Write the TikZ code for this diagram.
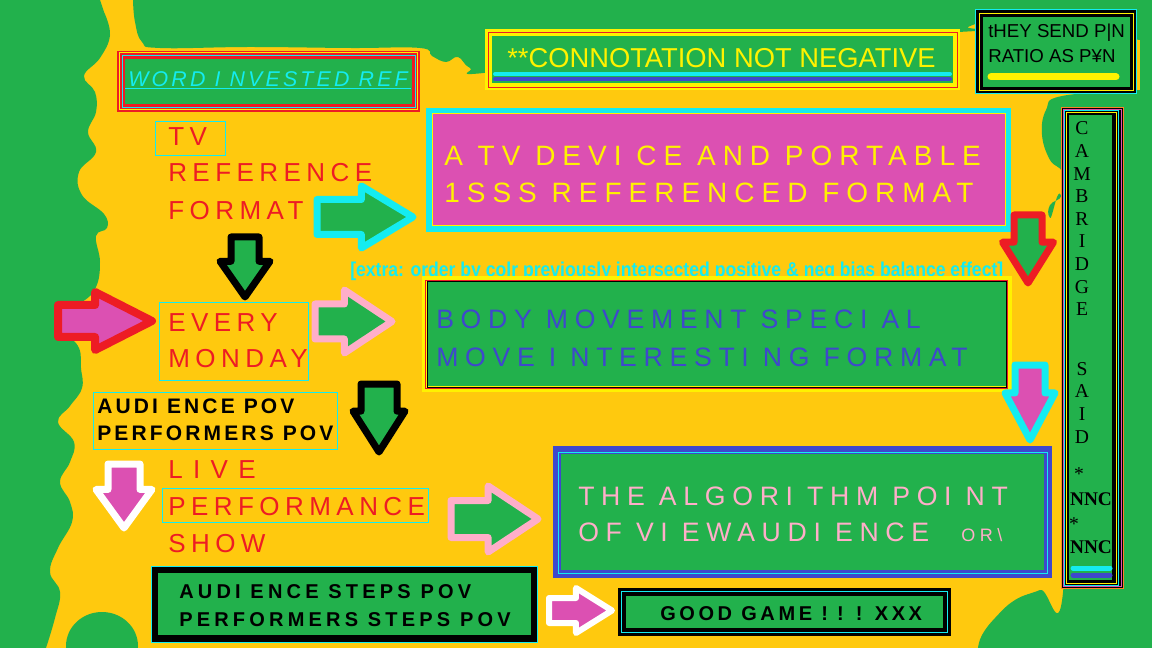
\documentclass[tikz,border=0pt]{standalone}
\usepackage{fontspec}
\setmainfont{Liberation Sans}
\newfontfamily\plainsans{Liberation Sans}
\newfontfamily\trackfont[LetterSpace=21]{Liberation Sans}
\newfontfamily\trackfontwide[LetterSpace=25]{Liberation Sans}
\newfontfamily\trackfontpov[LetterSpace=15]{Liberation Sans}
\newfontfamily\trackfontgame[LetterSpace=18]{Liberation Sans}
\newfontfamily\trackfontsteps[LetterSpace=21]{Liberation Sans}
\newfontfamily\wordfont[LetterSpace=15]{Liberation Sans}
\newfontfamily\extrafont[FakeStretch=0.88]{Liberation Sans}
\newfontfamily\cambfont{Liberation Serif}
\usetikzlibrary{shapes.arrows}
\newdimen\pxunit \pxunit=0.75pt
\definecolor{bgyellow}{RGB}{255,201,14}
\definecolor{treegreen}{RGB}{34,177,76}
\definecolor{boxred}{RGB}{237,28,36}
\definecolor{boxcyan}{RGB}{20,236,240}
\definecolor{boxyellow}{RGB}{255,242,0}
\definecolor{boxmagenta}{RGB}{220,80,178}
\definecolor{boxblue}{RGB}{63,72,204}
\definecolor{boxpink}{RGB}{255,174,201}
\definecolor{boxorange}{RGB}{255,127,39}

\begin{document}
\begin{tikzpicture}[x=0.75pt,y=0.75pt,yscale=-1,
  blockarrow/.style={single arrow,inner sep=0pt,line width=7\pxunit,line join=round,anchor=tail},
  arrowsize/.style n args={4}{minimum height=#1\pxunit,inner sep=#2\pxunit,single arrow head extend=#3\pxunit,single arrow tip angle=#4},
  txt/.style={anchor=base west,inner sep=0pt},
  colletter/.style={anchor=base,inner sep=0pt,font=\cambfont\fontsize{14.7}{16}\selectfont},
  thin/.style={line width=1\pxunit},
  redtext/.style={txt,boxred,font=\trackfont\fontsize{19.5}{20}\selectfont},
  boxtext/.style={txt,font=\trackfontwide\fontsize{20}{22}\selectfont}]
\useasboundingbox (0,0) rectangle (1152,648);
\fill[bgyellow] (0,0) rectangle (1152,648);

% trees
\fill[treegreen] (0,0) -- (100,0) -- plot[smooth,tension=0.7] coordinates {(104,12) (110,35) (100,58) (84,76) (95,92) (96,112) (88,132) (96,152) (79,172) (82,195) (104,214) (107,228) (96,236) (100,262) (96,287) (82,302) (58,312) (66,332) (79,348) (81,368) (82,388) (70,406) (58,422) (74,442) (70,462) (60,482) (70,502) (72,522) (58,548) (50,572) (60,592) (55,618) (46,648)} -- (0,648) -- cycle;
\fill[treegreen] (133,0) -- plot[smooth,tension=0.7] coordinates {(133,0) (135,22) (142,42) (160,48) (250,47) (350,48) (420,48) (432,56) (446,62) (458,57) (470,68) (492,72) (700,40) (958,32) (968,27) (985,20)} -- (1140,40) -- plot[smooth,tension=0.7] coordinates {(1140,90) (1062,96) (1046,110) (1042,135) (1050,160) (1062,172) (1062,195) (1050,205) (1050,218) (1064,226) (1064,580) (1040,590) (1015,600) (995,618) (982,635) (978,648)} -- (1152,648) -- (1152,0) -- cycle;
\fill[treegreen] (102,646) ellipse [x radius=36, y radius=34];

% top row
\draw[boxred,line width=8\pxunit,fill=treegreen] (121,55) rectangle (416,108);
\draw[boxyellow,thin] (119.5,53) rectangle (417.5,110);
\draw[boxcyan,thin] (122,56) rectangle (415.5,107.5);
\node[txt,boxcyan,font=\wordfont\itshape\fontsize{16}{18}\selectfont] (wordref) at (128,87) {WORD I NVESTED REF};
\draw[boxcyan,line width=1.2\pxunit] (125,88.5) -- (411,88.5);

\draw[boxyellow,line width=7\pxunit,fill=treegreen] (488.5,32.5) rectangle (956.5,86.5);
\draw[boxred,thin] (488,32.5) rectangle (957,87.5);
\node[txt,boxyellow,font=\plainsans\fontsize{20.5}{22}\selectfont] (connotation) at (507,68) {**CONNOTATION NOT NEGATIVE};
\draw[boxcyan,line width=4\pxunit,line cap=round] (495,74) -- (950,74);
\draw[boxblue,line width=4\pxunit,line cap=round] (495,79) -- (950,79);

\draw[black,line width=7\pxunit,fill=treegreen] (979.5,13.5) rectangle (1133.5,91);
\draw[boxcyan,thin] (975.5,9.5) rectangle (1136.5,94);
\draw[boxyellow,thin] (979.5,14) rectangle (1133,90.5);
\node[txt,font=\plainsans\fontsize{14}{15}\selectfont] (pnline1) at (988,38) {tHEY SEND P|N};
\node[txt,font=\plainsans\fontsize{14}{15}\selectfont] (pnline2) at (988,63) {RATIO AS P¥N};
\draw[boxyellow,line width=7\pxunit,line cap=round] (991,77) -- (1116,77);

% right column
\fill[black] (1061,107) rectangle (1124,589);
\fill[treegreen] (1069,115) rectangle (1112,580);
\draw[boxorange,thin] (1061.5,107.5) rectangle (1123.5,588.5);
\draw[boxmagenta,thin] (1063,109.5) rectangle (1121,586.5);
\draw[boxcyan,thin] (1064.5,111) rectangle (1118,585);
\draw[boxyellow,thin] (1066,112.5) rectangle (1116.5,583.5);
\foreach \ch [count=\i from 0] in {C,A,M,B,R,I,D,G,E}
  \node[colletter] (camb\i) at (1082,135+22.6*\i) {\ch};
\foreach \ch [count=\i from 0] in {S,A,I,D}
  \node[colletter] (said\i) at (1082,375+22.7*\i) {\ch};
\node[colletter] (star1) at (1079,480) {*};
\node[colletter,font=\cambfont\bfseries\fontsize{14.5}{16}\selectfont] (nnc1) at (1091,505) {NNC};
\node[colletter] (star2) at (1074,530) {*};
\node[colletter,font=\cambfont\bfseries\fontsize{14.5}{16}\selectfont] (nnc2) at (1091,553) {NNC};
\draw[boxcyan,line width=5\pxunit,line cap=round] (1073,568) -- (1110,568);
\draw[boxblue,line width=5\pxunit,line cap=round] (1073,575) -- (1110,575);

% middle boxes
\draw[boxcyan,line width=6\pxunit,fill=boxmagenta] (429,111) rectangle (1008,229);
\draw[boxyellow,thin] (432,114) rectangle (1005,226);
\node[boxtext,boxyellow,font=\trackfontwide\fontsize{21}{22}\selectfont] (tvline1) at (444,166) {A TV DEVI CE AND PORTABLE};
\node[boxtext,boxyellow,font=\trackfontwide\fontsize{21}{22}\selectfont] (tvline2) at (444,203) {1SSS REFERENCED FORMAT};

\node[txt,boxcyan,font=\extrafont\bfseries\fontsize{15}{16}\selectfont] (extra) at (350,277) {[extra: order by colr previously intersected positive \& neg bias balance effect]};

\draw[boxyellow,line width=6\pxunit,fill=treegreen] (425,279) rectangle (1009,389);
\draw[boxred,thin] (425,280.5) rectangle (1007.5,388.5);
\draw[black,thin] (427,282) rectangle (1006,387);
\node[boxtext,boxblue] (bodyline1) at (436,329) {BODY MOVEMENT SPECI AL};
\node[boxtext,boxblue] (bodyline2) at (436,366) {MOVE I NTERESTI NG FORMAT};

\draw[boxblue,line width=8\pxunit,fill=treegreen] (557,450) rectangle (1048,574);
\draw[boxcyan,thin] (558.5,452) rectangle (1047,573);
\node[boxtext,boxpink] (algline1) at (578,505) {THE ALGORI THM POI NT};
\node[boxtext,boxpink] (algline2) at (578,541) {OF VI EWAUDI ENCE};
\node[txt,boxpink,font=\trackfontwide\fontsize{13.5}{14}\selectfont] (orslash) at (961,541) {OR\textbackslash};

% left column
\draw[boxcyan,thin] (155,122) rectangle (225.5,156);
\node[redtext] (tv) at (168,146) {TV};
\node[redtext] (reference) at (168,182) {REFERENCE};
\node[redtext] (format) at (168,220) {FORMAT};

\draw[boxcyan,thin] (159.5,302.5) rectangle (308.5,380);
\node[redtext] (every) at (168,331) {EVERY};
\node[redtext] (monday) at (168,368) {MONDAY};

\draw[boxcyan,thin] (93.5,392) rectangle (337.5,449);
\node[txt,font=\trackfontpov\bfseries\fontsize{15.75}{17}\selectfont] (povline1) at (97,413) {AUDI ENCE POV};
\node[txt,font=\trackfontpov\bfseries\fontsize{15.75}{17}\selectfont] (povline2) at (97,440) {PERFORMERS POV};

\node[redtext,font=\trackfont\addfontfeature{LetterSpace=40}\fontsize{19.5}{20}\selectfont] (live) at (168,478) {LIVE};
\draw[boxcyan,thin] (162.5,488.5) rectangle (428.5,522.5);
\node[redtext] (performance) at (168,515) {PERFORMANCE};
\node[redtext] (show) at (168,552) {SHOW};

% bottom row
\draw[black,line width=7\pxunit,fill=treegreen] (154.5,569.5) rectangle (534,638.5);
\draw[boxcyan,thin] (151,566) rectangle (537.5,642);
\node[txt,font=\trackfontsteps\bfseries\fontsize{15}{16}\selectfont] (stepsline1) at (179,598) {AUDI ENCE STEPS POV};
\node[txt,font=\trackfontsteps\bfseries\fontsize{15}{16}\selectfont] (stepsline2) at (179,626) {PERFORMERS STEPS POV};

\draw[black,line width=8\pxunit,fill=treegreen] (621.5,592) rectangle (946.5,631.5);
\draw[boxcyan,thin] (621.5,591.5) rectangle (947,632);
\node[txt,font=\trackfontgame\bfseries\fontsize{15}{16}\selectfont] (goodgame) at (660,620) {GOOD GAME ! ! ! XXX};

% block arrows
\node[blockarrow,arrowsize={96}{14}{13.5}{62},draw=boxcyan,fill=treegreen] (tvarrow) at (313.5,217) {};
\node[blockarrow,arrowsize={60}{10.5}{11}{70},shape border rotate=270,draw=black,fill=treegreen] (tvdown) at (245,233.5) {};
\node[blockarrow,arrowsize={94}{12}{13}{54},line width=8\pxunit,draw=boxred,fill=boxmagenta] (mondayin) at (54,321) {};
\node[blockarrow,arrowsize={77}{14}{14}{67},draw=boxpink,fill=treegreen] (mondayarrow) at (311.5,321.5) {};
\node[blockarrow,arrowsize={68}{10.5}{11.5}{64},shape border rotate=270,draw=boxred,fill=treegreen] (tvboxdown) at (1028,211.5) {};
\node[blockarrow,arrowsize={75}{11.5}{10}{56},shape border rotate=270,draw=boxcyan,fill=boxmagenta] (bodydown) at (1030,361.5) {};
\node[blockarrow,arrowsize={68}{14.5}{8}{65},shape border rotate=270,draw=black,fill=treegreen] (mondaydown) at (379,380.5) {};
\node[blockarrow,arrowsize={64}{12.5}{12}{72},shape border rotate=270,draw=white,fill=boxmagenta] (povdown) at (124,460.5) {};
\node[blockarrow,arrowsize={87}{15}{14.5}{67},draw=boxpink,fill=treegreen] (livearrow) at (447.5,519) {};
\node[blockarrow,arrowsize={63}{9.5}{10}{64},line width=6\pxunit,draw=white,fill=boxmagenta] (stepsarrow) at (546,610.5) {};

\end{tikzpicture}
\end{document}
